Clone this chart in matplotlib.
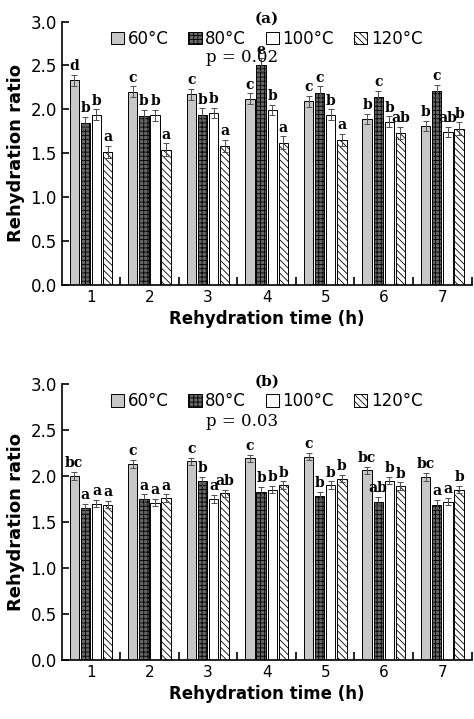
import numpy as np
import matplotlib.pyplot as plt

times = ['1', '2', '3', '4', '5', '6', '7']
temps = ['60°C', '80°C', '100°C', '120°C']

a_60 = [2.33, 2.20, 2.17, 2.12, 2.09, 1.89, 1.81]
a_80 = [1.84, 1.92, 1.94, 2.51, 2.19, 2.14, 2.21]
a_100 = [1.94, 1.93, 1.96, 1.99, 1.94, 1.86, 1.74]
a_120 = [1.51, 1.54, 1.58, 1.62, 1.65, 1.73, 1.78]
a_err = [0.06, 0.07, 0.06, 0.07]
a_letters = [['d', 'b', 'b', 'a'], ['c', 'b', 'b', 'a'], ['c', 'b', 'b', 'a'], ['c', 'e', 'b', 'a'],
             ['c', 'c', 'b', 'a'], ['b', 'c', 'b', 'ab'], ['b', 'c', 'ab', 'b']]

b_60 = [2.00, 2.13, 2.16, 2.19, 2.21, 2.06, 1.99]
b_80 = [1.65, 1.75, 1.94, 1.83, 1.78, 1.72, 1.69]
b_100 = [1.70, 1.71, 1.75, 1.85, 1.90, 1.95, 1.72]
b_120 = [1.69, 1.76, 1.81, 1.90, 1.97, 1.89, 1.85]
b_err = [0.04, 0.05, 0.04, 0.04]
b_letters = [['bc', 'a', 'a', 'a'], ['c', 'a', 'a', 'a'], ['c', 'b', 'a', 'ab'], ['c', 'b', 'b', 'b'],
             ['c', 'b', 'b', 'b'], ['bc', 'ab', 'b', 'b'], ['bc', 'a', 'a', 'b']]

styles = [dict(facecolor='0.78', hatch=''),
          dict(facecolor='0.4', hatch='++++'),
          dict(facecolor='white', hatch=''),
          dict(facecolor='white', hatch='\\\\\\\\\\')]

plt.rcParams['hatch.linewidth'] = 0.6
fig = plt.figure(figsize=(4.74, 7.19), dpi=100)
ax1 = fig.add_axes([0.13, 0.604, 0.865, 0.366])
ax2 = fig.add_axes([0.13, 0.082, 0.865, 0.384])


def panel(ax, series, err, letters, tag, p):
    x = np.arange(len(times))
    step = 0.19
    for i, vals in enumerate(series):
        pos = x - 1.5 * step + i * step
        ax.bar(pos, vals, 0.16, yerr=err[i], capsize=2.5, edgecolor='black', linewidth=0.7,
               error_kw=dict(elinewidth=0.7, capthick=0.7, ecolor='0.3'),
               label=temps[i], **styles[i])
        for j, v in enumerate(vals):
            ax.text(pos[j], v + err[i] + 0.02, letters[j][i], ha='center', va='bottom',
                    family='DejaVu Serif', fontweight='bold', fontsize=10)
    ax.set_ylim(0, 3.0)
    ax.set_xlim(-0.5, len(times) - 0.5)
    ax.set_yticks(np.arange(0, 3.01, 0.5))
    ax.set_yticklabels([f'{t:.1f}' for t in np.arange(0, 3.01, 0.5)], fontsize=12)
    ax.set_xticks(x)
    ax.set_xticklabels(times, fontsize=11)
    ax.set_xticks(np.arange(0.5, len(times) - 0.4, 1), minor=True)
    ax.tick_params(axis='x', which='major', length=0)
    ax.tick_params(axis='x', which='minor', length=6, direction='in', width=1.2)
    ax.tick_params(axis='y', direction='in', length=5, width=1.2)
    for s in ['top', 'right']:
        ax.spines[s].set_visible(False)
    for s in ['left', 'bottom']:
        ax.spines[s].set_linewidth(1.2)
    ax.set_ylabel('Rehydration ratio', fontsize=13, fontweight='bold')
    ax.set_xlabel('Rehydration time (h)', fontsize=12, fontweight='bold')
    ax.text(0.5, 1.01, tag, transform=ax.transAxes, ha='center', va='center',
            family='DejaVu Serif', fontweight='bold', fontsize=11)
    ax.text(0.44, 0.865, p, transform=ax.transAxes, ha='center', va='center',
            family='DejaVu Serif', fontsize=12)
    ax.legend(loc='upper center', bbox_to_anchor=(0.5, 1.0), ncol=4, frameon=False,
              fontsize=12, handlelength=0.8, handleheight=0.8, handletextpad=0.2,
              columnspacing=1.2, borderaxespad=0.3, borderpad=0.2)


panel(ax1, [a_60, a_80, a_100, a_120], a_err, a_letters, '(a)', 'p = 0.02')
panel(ax2, [b_60, b_80, b_100, b_120], b_err, b_letters, '(b)', 'p = 0.03')

fig.savefig('out.png', dpi=100)
